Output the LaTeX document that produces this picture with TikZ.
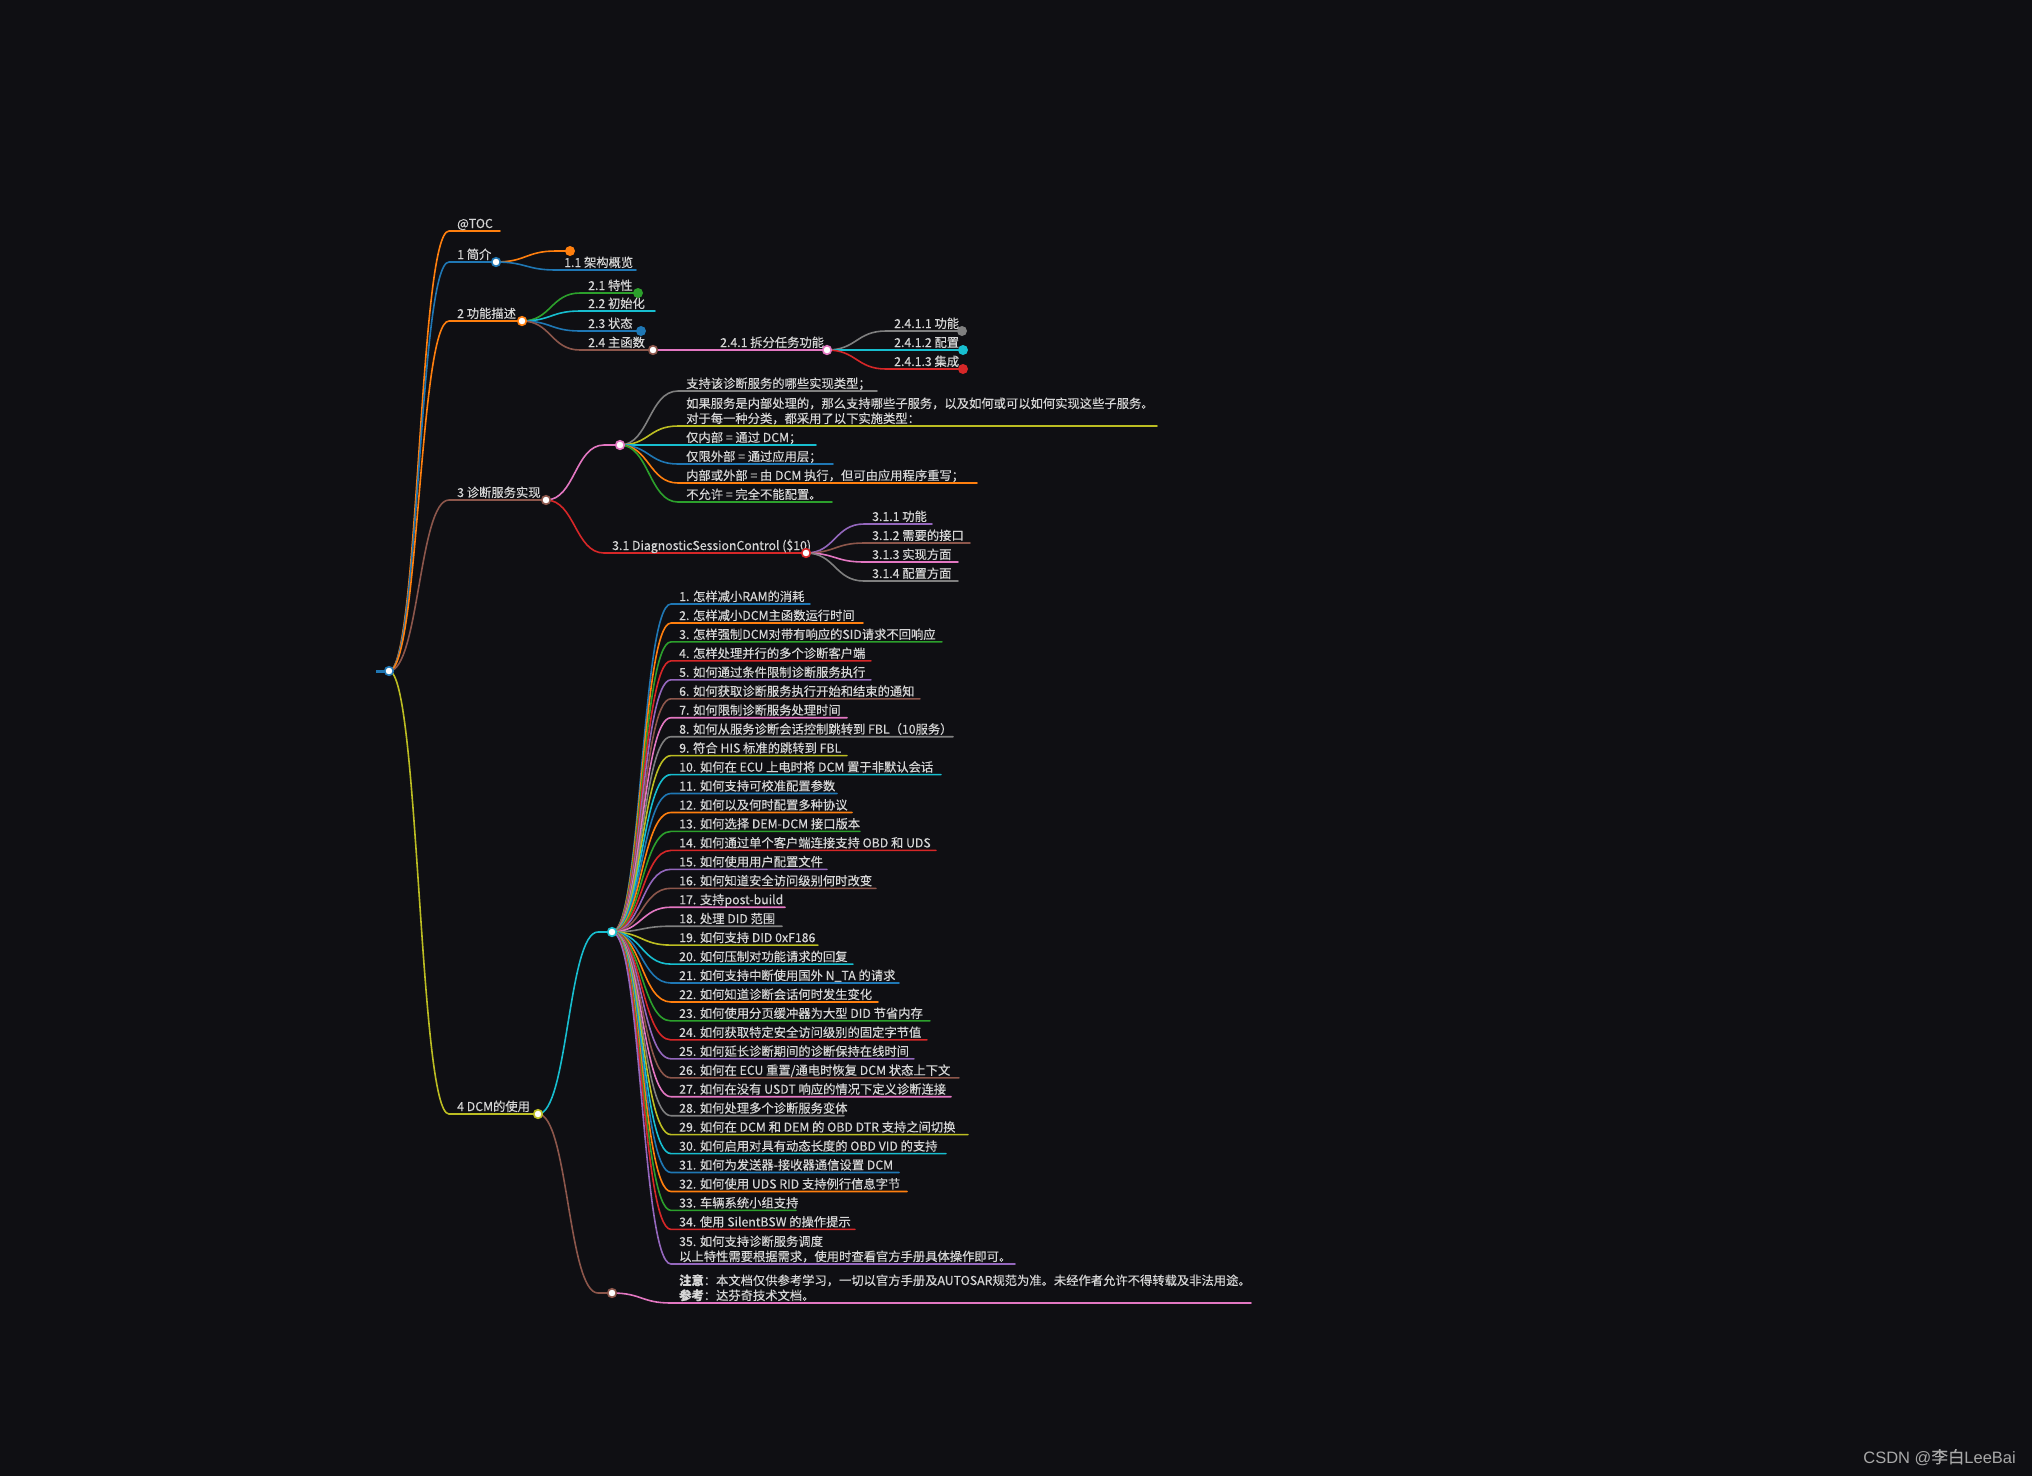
\documentclass[tikz,border=0pt]{standalone}
\usepackage{fontspec}
\setmainfont{Noto Sans CJK SC}[RawFeature={embolden=0.4}]
\newfontfamily\wmfont{Liberation Sans}
\usetikzlibrary{calc}
\pgfdeclarelayer{back}
\pgfdeclarelayer{bg}
\pgfsetlayers{back,bg,main}
\definecolor{bgc}{HTML}{0F0F13}
\definecolor{txc}{HTML}{D6D6D6}
\definecolor{wmc}{HTML}{A8A8A8}
\definecolor{C0}{HTML}{1F77B4}
\definecolor{C1}{HTML}{FF7F0E}
\definecolor{C2}{HTML}{2CA02C}
\definecolor{C3}{HTML}{D62728}
\definecolor{C4}{HTML}{9467BD}
\definecolor{C5}{HTML}{8C564B}
\definecolor{C6}{HTML}{E377C2}
\definecolor{C7}{HTML}{7F7F7F}
\definecolor{C8}{HTML}{BCBD22}
\definecolor{C9}{HTML}{17BECF}
\tikzset{
  mmlink/.style={to path={let \p1=(\tikztostart), \p2=(\tikztotarget) in
      .. controls ({(\x1+\x2)/2},\y1) and ({(\x1+\x2)/2},\y2) .. (\tikztotarget)}},
  mmline/.style={line width=1.6pt, line cap=round, line join=round},
  mmtext/.style={text=txc, font=\fontsize{12.3}{15}\selectfont, inner sep=0pt, anchor=base west},
  mmhub/.style={circle, draw=#1, fill=white, line width=1.6pt, minimum size=8.6pt, inner sep=0pt},
  mmdot/.style={circle, fill=#1, minimum size=10pt, inner sep=0pt},
}
% #1 name, #2 parent anchor, #3 colour, #4 start x, #5 y, #6 end x
\newcommand\mmbranch[6]{%
  \coordinate (#1-s) at (#4,#5);
  \coordinate (#1-e) at (#6,#5);
  \begin{pgfonlayer}{bg}
    \draw[mmline,draw=#3] (#2) to[mmlink] (#1-s) -- (#1-e);
  \end{pgfonlayer}}
\newcommand\mmtxt[3]{\node[mmtext] (#1) at ([shift={(8pt,3pt)}]#2) {#3};}
\newcommand\mmleaf[7]{\mmbranch{#1}{#2}{#3}{#4}{#5}{#6}\mmtxt{#1t}{#1-s}{#7}}

\begin{document}
\begin{tikzpicture}[x=1pt,y=-1pt]
\begin{pgfonlayer}{back}
  \fill[bgc] (0,0) rectangle (2032,1476);
\end{pgfonlayer}
\useasboundingbox (0,0) rectangle (2032,1476);

% root
\node[mmhub=C0] (root) at (389,671) {};
\coordinate (rootl) at (376,671);
\begin{pgfonlayer}{bg}\draw[line width=3pt,C0] (rootl) -- (root.center);\end{pgfonlayer}

% level 1
\mmleaf{toc}{root.center}{C1}{449}{231}{500}{@TOC}
\mmleaf{s1}{root.center}{C0}{449}{262}{496}{1 简介}
\node[mmhub=C0] (s1h) at (s1-e) {};
\mmleaf{s2}{root.center}{C1}{449}{321}{522}{2 功能描述}
\node[mmhub=C1] (s2h) at (s2-e) {};
\mmleaf{s3}{root.center}{C5}{449}{500}{546}{3 诊断服务实现}
\node[mmhub=C5] (s3h) at (s3-e) {};
\mmleaf{s4}{root.center}{C8}{449}{1114}{538}{4 DCM的使用}
\node[mmhub=C8] (s4h) at (s4-e) {};

% 1
\mmbranch{s1a}{s1h.center}{C1}{556}{251}{570}
\node[mmdot=C1] (s1ad) at (s1a-e) {};
\mmleaf{s11}{s1h.center}{C0}{556}{270}{636}{1.1 架构概览}

% 2
\mmleaf{s21}{s2h.center}{C2}{580}{293}{638}{2.1 特性}
\node[mmdot=C2] (s21d) at (s21-e) {};
\mmleaf{s22}{s2h.center}{C9}{580}{311}{655}{2.2 初始化}
\mmleaf{s23}{s2h.center}{C0}{580}{331}{641}{2.3 状态}
\node[mmdot=C0] (s23d) at (s23-e) {};
\mmleaf{s24}{s2h.center}{C5}{580}{350}{653}{2.4 主函数}
\node[mmhub=C5] (s24h) at (s24-e) {};
\mmleaf{s241}{s24h.center}{C6}{712}{350}{827}{2.4.1 拆分任务功能}
\node[mmhub=C6] (s241h) at (s241-e) {};
\mmleaf{sa}{s241h.center}{C7}{886}{331}{962}{2.4.1.1 功能}
\node[mmdot=C7] (sad) at (sa-e) {};
\mmleaf{sb}{s241h.center}{C9}{886}{350}{963}{2.4.1.2 配置}
\node[mmdot=C9] (sbd) at (sb-e) {};
\mmleaf{sc}{s241h.center}{C3}{886}{369}{963}{2.4.1.3 集成}
\node[mmdot=C3] (scd) at (sc-e) {};

% 3
\mmbranch{g3}{s3h.center}{C6}{604}{445}{620}
\node[mmhub=C6] (g3h) at (g3-e) {};
\mmleaf{ga}{g3h.center}{C7}{678}{391}{877}{支持该诊断服务的哪些实现类型；}
\mmbranch{gb}{g3h.center}{C8}{678}{426}{1157}
\node[mmtext] (gbt1) at (686,408) {如果服务是内部处理的，那么支持哪些子服务，以及如何或可以如何实现这些子服务。};
\node[mmtext] (gbt2) at (686,423) {对于每一种分类，都采用了以下实施类型：};
\mmleaf{gc}{g3h.center}{C9}{678}{445}{816}{仅内部 = 通过 DCM；}
\mmleaf{gd}{g3h.center}{C0}{678}{464}{833}{仅限外部 = 通过应用层；}
\mmleaf{ge}{g3h.center}{C1}{678}{483}{977}{内部或外部 = 由 DCM 执行，但可由应用程序重写；}
\mmleaf{gf}{g3h.center}{C2}{678}{502}{832}{不允许 = 完全不能配置。}

\mmleaf{s31}{s3h.center}{C3}{604}{553}{806}{3.1 DiagnosticSessionControl (\$10)}
\node[mmhub=C3] (s31h) at (s31-e) {};
\mmleaf{s311}{s31h.center}{C4}{864}{524}{932}{3.1.1 功能}
\mmleaf{s312}{s31h.center}{C5}{864}{543}{970}{3.1.2 需要的接口}
\mmleaf{s313}{s31h.center}{C6}{864}{562}{958}{3.1.3 实现方面}
\mmleaf{s314}{s31h.center}{C7}{864}{581}{958}{3.1.4 配置方面}

% 4
\mmbranch{g4}{s4h.center}{C9}{598}{932}{612}
\node[mmhub=C9] (g4h) at (g4-e) {};
\mmbranch{g5}{s4h.center}{C5}{598}{1293}{612}
\node[mmhub=C5] (g5h) at (g5-e) {};

\mmleaf{q1}{g4h.center}{C0}{671}{604.0}{810}{1. 怎样减小RAM的消耗}
\mmleaf{q2}{g4h.center}{C1}{671}{623.0}{863}{2. 怎样减小DCM主函数运行时间}
\mmleaf{q3}{g4h.center}{C2}{671}{641.9}{942}{3. 怎样强制DCM对带有响应的SID请求不回响应}
\mmleaf{q4}{g4h.center}{C3}{671}{660.9}{871}{4. 怎样处理并行的多个诊断客户端}
\mmleaf{q5}{g4h.center}{C4}{671}{679.8}{871}{5. 如何通过条件限制诊断服务执行}
\mmleaf{q6}{g4h.center}{C5}{671}{698.8}{920}{6. 如何获取诊断服务执行开始和结束的通知}
\mmleaf{q7}{g4h.center}{C6}{671}{717.7}{847}{7. 如何限制诊断服务处理时间}
\mmleaf{q8}{g4h.center}{C7}{671}{736.7}{953}{8. 如何从服务诊断会话控制跳转到 FBL（10服务）}
\mmleaf{q9}{g4h.center}{C8}{671}{755.6}{847}{9. 符合 HIS 标准的跳转到 FBL}
\mmleaf{q10}{g4h.center}{C9}{671}{774.6}{941}{10. 如何在 ECU 上电时将 DCM 置于非默认会话}
\mmleaf{q11}{g4h.center}{C0}{671}{793.5}{837}{11. 如何支持可校准配置参数}
\mmleaf{q12}{g4h.center}{C1}{671}{812.5}{852}{12. 如何以及何时配置多种协议}
\mmleaf{q13}{g4h.center}{C2}{671}{831.4}{860}{13. 如何选择 DEM-DCM 接口版本}
\mmleaf{q14}{g4h.center}{C3}{671}{850.4}{936}{14. 如何通过单个客户端连接支持 OBD 和 UDS}
\mmleaf{q15}{g4h.center}{C4}{671}{869.3}{827}{15. 如何使用用户配置文件}
\mmleaf{q16}{g4h.center}{C5}{671}{888.3}{876}{16. 如何知道安全访问级别何时改变}
\mmleaf{q17}{g4h.center}{C6}{671}{907.2}{785}{17. 支持post-build}
\mmleaf{q18}{g4h.center}{C7}{671}{926.2}{782}{18. 处理 DID 范围}
\mmleaf{q19}{g4h.center}{C8}{671}{945.1}{818}{19. 如何支持 DID 0xF186}
\mmleaf{q20}{g4h.center}{C9}{671}{964.1}{853}{20. 如何压制对功能请求的回复}
\mmleaf{q21}{g4h.center}{C0}{671}{983.0}{899}{21. 如何支持中断使用国外 N\_TA 的请求}
\mmleaf{q22}{g4h.center}{C1}{671}{1002.0}{878}{22. 如何知道诊断会话何时发生变化}
\mmleaf{q23}{g4h.center}{C2}{671}{1020.9}{930}{23. 如何使用分页缓冲器为大型 DID 节省内存}
\mmleaf{q24}{g4h.center}{C3}{671}{1039.9}{927}{24. 如何获取特定安全访问级别的固定字节值}
\mmleaf{q25}{g4h.center}{C4}{671}{1058.8}{914}{25. 如何延长诊断期间的诊断保持在线时间}
\mmleaf{q26}{g4h.center}{C5}{671}{1077.8}{959}{26. 如何在 ECU 重置/通电时恢复 DCM 状态上下文}
\mmleaf{q27}{g4h.center}{C6}{671}{1096.7}{951}{27. 如何在没有 USDT 响应的情况下定义诊断连接}
\mmleaf{q28}{g4h.center}{C7}{671}{1115.7}{844}{28. 如何处理多个诊断服务变体}
\mmleaf{q29}{g4h.center}{C8}{671}{1134.6}{968}{29. 如何在 DCM 和 DEM 的 OBD DTR 支持之间切换}
\mmleaf{q30}{g4h.center}{C9}{671}{1153.6}{946}{30. 如何启用对具有动态长度的 OBD VID 的支持}
\mmleaf{q31}{g4h.center}{C0}{671}{1172.5}{899}{31. 如何为发送器-接收器通信设置 DCM}
\mmleaf{q32}{g4h.center}{C1}{671}{1191.5}{907}{32. 如何使用 UDS RID 支持例行信息字节}
\mmleaf{q33}{g4h.center}{C2}{671}{1210.4}{796}{33. 车辆系统小组支持}
\mmleaf{q34}{g4h.center}{C3}{671}{1229.4}{855}{34. 使用 SilentBSW 的操作提示}
\mmbranch{q35}{g4h.center}{C4}{671}{1264}{1015}
\node[mmtext] (q35t1) at (679,1246) {35. 如何支持诊断服务调度};
\node[mmtext] (q35t2) at (679,1261) {以上特性需要根据需求，使用时查看官方手册具体操作即可。};

\mmbranch{nt}{g5h.center}{C6}{671}{1303}{1251}
\node[mmtext] (ntt1) at (679,1285) {\textbf{注意}：本文档仅供参考学习，一切以官方手册及AUTOSAR规范为准。未经作者允许不得转载及非法用途。};
\node[mmtext] (ntt2) at (679,1300) {\textbf{参考}：达芬奇技术文档。};

% watermark
\node[anchor=base east, inner sep=0pt, text=wmc, font=\wmfont\fontsize{16.5}{18}\selectfont] (wm) at (2016,1463) {CSDN @{\rmfamily 李白}LeeBai};
\end{tikzpicture}
\end{document}
